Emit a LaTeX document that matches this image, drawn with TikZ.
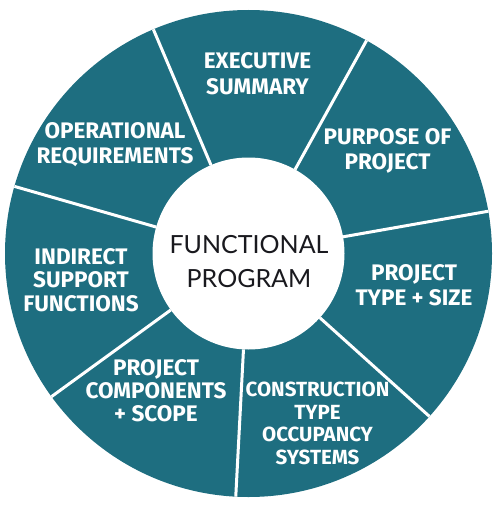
\documentclass[tikz,border=0pt]{standalone}
\usepackage{fontspec}
\setmainfont{Fira Sans}
\newfontfamily\hubfont{Lato}
\definecolor{wheelteal}{RGB}{30,110,128}
\definecolor{hubtext}{RGB}{25,25,30}
\tikzset{
  lbl/.style={text=white, align=center, inner sep=0pt,
    font=\bfseries\fontsize{22.5}{#1}\selectfont},
  lbl/.default=24,
  smalllbl/.style={text=white, align=center, inner sep=0pt,
    font=\bfseries\fontsize{20.5}{#1}\selectfont},
  divider/.style={white, line width=3pt},
}
\begin{document}
\begin{tikzpicture}[x=1pt,y=-1pt]
\useasboundingbox (0,0) rectangle (496,511);
\node[circle, fill=wheelteal, minimum size=487pt, inner sep=0pt, outer sep=0pt] (wheel) at (248.5,253.5) {};
\node[circle, fill=white, minimum size=192pt, inner sep=0pt, outer sep=0pt] (hub) at (248.5,253.5) {};
\node[align=center, text=hubtext, inner sep=0pt, font=\hubfont\fontsize{25}{34}\selectfont] (hubtitle) at (249,262) {FUNCTIONAL\\PROGRAM};
\foreach \a in {10.3,61.73,113.16,164.59,216.02,267.45,318.88}
  \draw[divider] (hub.\a) -- (wheel.\a);
\node[lbl=26] (exec) at (257.5,74) {EXECUTIVE\\SUMMARY};
\node[lbl=25] (purpose) at (387.5,150.5) {PURPOSE OF\\PROJECT};
\node[lbl=25] (oper) at (115,145) {OPERATIONAL\\REQUIREMENTS};
\node[lbl=23.5] (indirect) at (81,280) {INDIRECT\\SUPPORT\\FUNCTIONS};
\node[lbl=24.7] (ptype) at (414,285.5) {PROJECT\\TYPE + SIZE};
\node[lbl=23.3] (comp) at (156,390.5) {PROJECT\\COMPONENTS\\+ SCOPE};
\node[smalllbl=22.4] (constr) at (317.5,423.3) {CONSTRUCTION\\TYPE\\OCCUPANCY\\SYSTEMS};
\end{tikzpicture}
\end{document}
